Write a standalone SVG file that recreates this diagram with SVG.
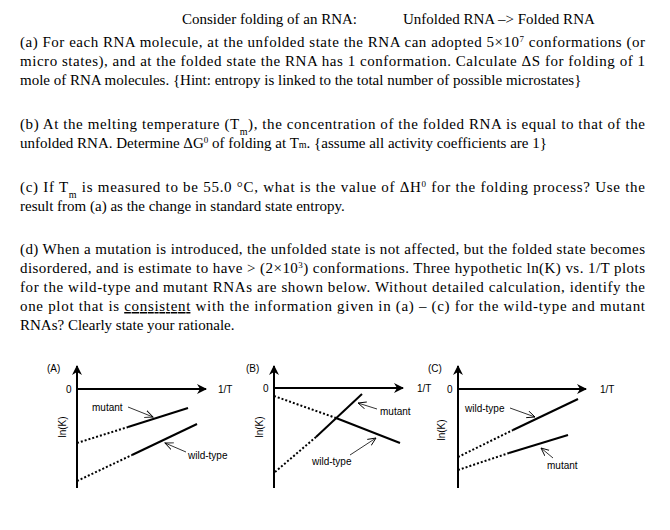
<svg xmlns="http://www.w3.org/2000/svg" width="670" height="530" viewBox="0 0 670 530">
<style>
.t{font-family:"Liberation Serif",serif;font-size:15px;fill:#000}
.s{font-family:"Liberation Sans",sans-serif;font-size:10px;fill:#000}
.ax{stroke:#000;stroke-width:2;fill:none}
.ln{stroke:#000;stroke-width:2;fill:none}
.dt{stroke:#000;stroke-width:2;stroke-dasharray:2,2;fill:none}
.pt{stroke:#000;stroke-width:0.8;fill:none}
</style>
<defs>
<marker id="ah" viewBox="0 0 10 10" refX="9" refY="5" markerWidth="5" markerHeight="5" orient="auto"><path d="M0,0L10,5L0,10L3,5z" fill="#000"/></marker>
<marker id="oa" viewBox="0 0 10 10" refX="9" refY="5" markerWidth="9" markerHeight="9" orient="auto" markerUnits="userSpaceOnUse"><path d="M0,1L9,5L0,9" fill="none" stroke="#000" stroke-width="1"/></marker>
</defs>
<g id="text">
<text class="t" x="182" y="24">Consider folding of an RNA:</text>
<text class="t" x="403" y="24">Unfolded RNA –&gt; Folded RNA</text>
<text class="t" x="20" y="47" textLength="625" lengthAdjust="spacing">(a) For each RNA molecule, at the unfolded state the RNA can adopted 5×10<tspan baseline-shift="super" font-size="9">7</tspan> conformations (or</text>
<text class="t" x="20" y="66" textLength="625" lengthAdjust="spacing">micro states), and at the folded state the RNA has 1 conformation. Calculate ΔS for folding of 1</text>
<text class="t" x="20" y="85">mole of RNA molecules. {Hint: entropy is linked to the total number of possible microstates}</text>
<text class="t" x="20" y="129" textLength="625" lengthAdjust="spacing">(b) At the melting temperature (T<tspan baseline-shift="sub" font-size="10">m</tspan>), the concentration of the folded RNA is equal to that of the</text>
<text class="t" x="20" y="148">unfolded RNA. Determine ΔG<tspan baseline-shift="super" font-size="9">0</tspan> of folding at T<tspan font-size="10">m</tspan>. {assume all activity coefficients are 1}</text>
<text class="t" x="20" y="192" textLength="625" lengthAdjust="spacing">(c) If T<tspan baseline-shift="sub" font-size="10">m</tspan> is measured to be 55.0 °C, what is the value of ΔH<tspan baseline-shift="super" font-size="9">0</tspan> for the folding process?  Use the</text>
<text class="t" x="20" y="211">result from (a) as the change in standard state entropy.</text>
<text class="t" x="20" y="254" textLength="625" lengthAdjust="spacing">(d) When a mutation is introduced, the unfolded state is not affected, but the folded state becomes</text>
<text class="t" x="20" y="273" textLength="625" lengthAdjust="spacing">disordered, and is estimate to have &gt; (2×10<tspan baseline-shift="super" font-size="9">3</tspan>) conformations. Three hypothetic ln(K) vs. 1/T plots</text>
<text class="t" x="20" y="292" textLength="625" lengthAdjust="spacing">for the wild-type and mutant RNAs are shown below. Without detailed calculation, identify the</text>
<text class="t" x="20" y="311" textLength="625" lengthAdjust="spacing">one plot that is <tspan text-decoration="underline">consistent</tspan> with the information given in (a) – (c) for the wild-type and mutant</text>
<text class="t" x="20" y="330">RNAs? Clearly state your rationale.</text>
</g>
<g id="plotA">
<line class="ax" x1="77" y1="488" x2="77" y2="366" marker-end="url(#ah)"/>
<line class="ax" x1="77" y1="389" x2="206" y2="389" marker-end="url(#ah)"/>
<text class="s" x="47" y="372" font-size="11">(A)</text>
<text class="s" x="66" y="393">0</text>
<text class="s" x="218" y="393">1/T</text>
<text class="s" transform="translate(66,427) rotate(-90)" text-anchor="middle">ln(K)</text>
<line class="dt" x1="77" y1="443" x2="128" y2="427"/><line class="ln" x1="128" y1="427" x2="188" y2="408"/>
<line class="dt" x1="77" y1="481" x2="132" y2="455"/><line class="ln" x1="132" y1="455" x2="197" y2="424"/>
<text class="s" x="92" y="411">mutant</text>
<line class="pt" x1="128" y1="407" x2="153" y2="417" marker-end="url(#oa)"/>
<text class="s" x="188" y="459">wild-type</text>
<line class="pt" x1="186" y1="452" x2="165" y2="443" marker-end="url(#oa)"/>
</g>
<g id="plotB">
<line class="ax" x1="274" y1="488" x2="274" y2="366" marker-end="url(#ah)"/>
<line class="ax" x1="274" y1="388" x2="403" y2="388" marker-end="url(#ah)"/>
<text class="s" x="246" y="372" font-size="11">(B)</text>
<text class="s" x="263" y="392">0</text>
<text class="s" x="417" y="392">1/T</text>
<text class="s" transform="translate(263,427) rotate(-90)" text-anchor="middle">ln(K)</text>
<line class="dt" x1="274" y1="396" x2="336" y2="418"/><line class="ln" x1="336" y1="418" x2="400" y2="443"/>
<line class="dt" x1="275" y1="472" x2="316" y2="437"/><line class="ln" x1="316" y1="437" x2="362" y2="394"/>
<text class="s" x="380" y="415">mutant</text>
<line class="pt" x1="377" y1="409" x2="358" y2="403" marker-end="url(#oa)"/>
<text class="s" x="312" y="465">wild-type</text>
<line class="pt" x1="350" y1="455" x2="376" y2="438" marker-end="url(#oa)"/>
</g>
<g id="plotC">
<line class="ax" x1="458" y1="488" x2="458" y2="366" marker-end="url(#ah)"/>
<line class="ax" x1="458" y1="389" x2="586" y2="389" marker-end="url(#ah)"/>
<text class="s" x="428" y="372" font-size="11">(C)</text>
<text class="s" x="447" y="393">0</text>
<text class="s" x="600" y="393">1/T</text>
<text class="s" transform="translate(445,430) rotate(-90)" text-anchor="middle">ln(K)</text>
<line class="dt" x1="458" y1="457" x2="513" y2="430"/><line class="ln" x1="513" y1="430" x2="578" y2="399"/>
<line class="dt" x1="458" y1="470" x2="509" y2="453"/><line class="ln" x1="509" y1="453" x2="568" y2="435"/>
<text class="s" x="465" y="412">wild-type</text>
<line class="pt" x1="510" y1="408" x2="535" y2="417" marker-end="url(#oa)"/>
<text class="s" x="547" y="469">mutant</text>
<line class="pt" x1="553" y1="458" x2="541" y2="448" marker-end="url(#oa)"/>
</g>
</svg>
